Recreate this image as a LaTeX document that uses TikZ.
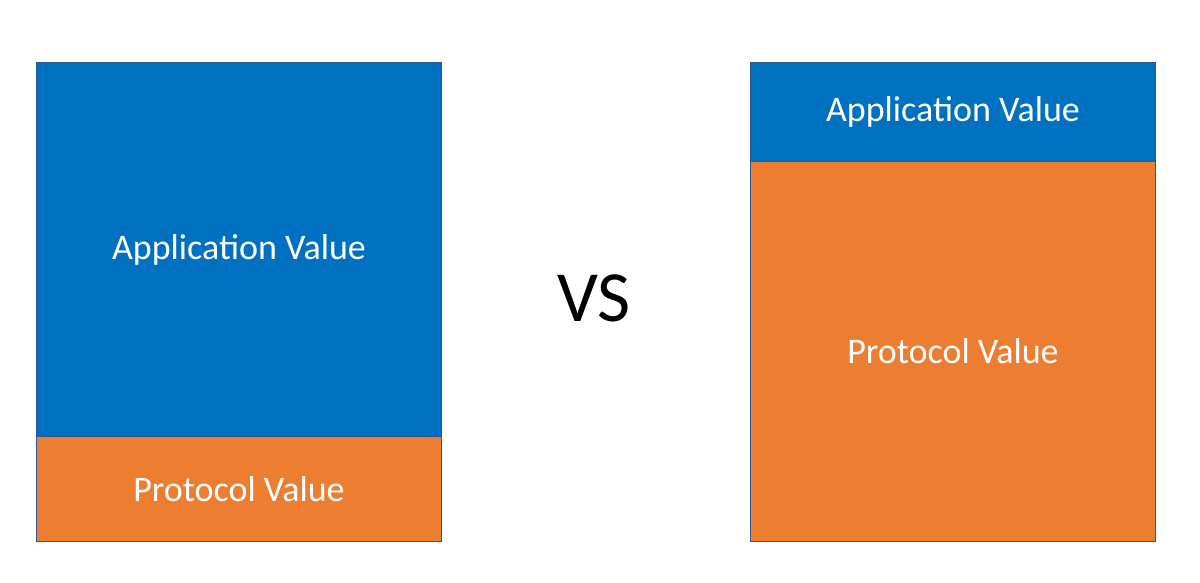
\documentclass[tikz,border=0pt]{standalone}
\usepackage{fontspec}
\setmainfont{Carlito}
\definecolor{mblue}{HTML}{0070C0}
\definecolor{morange}{HTML}{ED7D31}
\definecolor{edge}{HTML}{2F5597}
\begin{document}
\begin{tikzpicture}[x=1pt,y=-1pt,
  blk/.style={draw=edge,line width=1pt,inner sep=0pt,anchor=north west,text=white,font=\fontsize{36}{40}\selectfont}]
\useasboundingbox (0,0) rectangle (1200,583);
\node[blk,fill=mblue,minimum width=405pt,minimum height=374pt] (a1) at (36,62) {Application Value};
\node[blk,fill=morange,minimum width=405pt,minimum height=105pt] (p1) at (36,436) {Protocol Value};
\node[blk,fill=mblue,minimum width=405pt,minimum height=99pt] (a2) at (750,62) {Application Value};
\node[blk,fill=morange,minimum width=405pt,minimum height=380pt] (p2) at (750,161) {Protocol Value};
\node[font=\fontsize{72}{80}\selectfont] (vs) at (594,298) {VS};
\end{tikzpicture}
\end{document}
